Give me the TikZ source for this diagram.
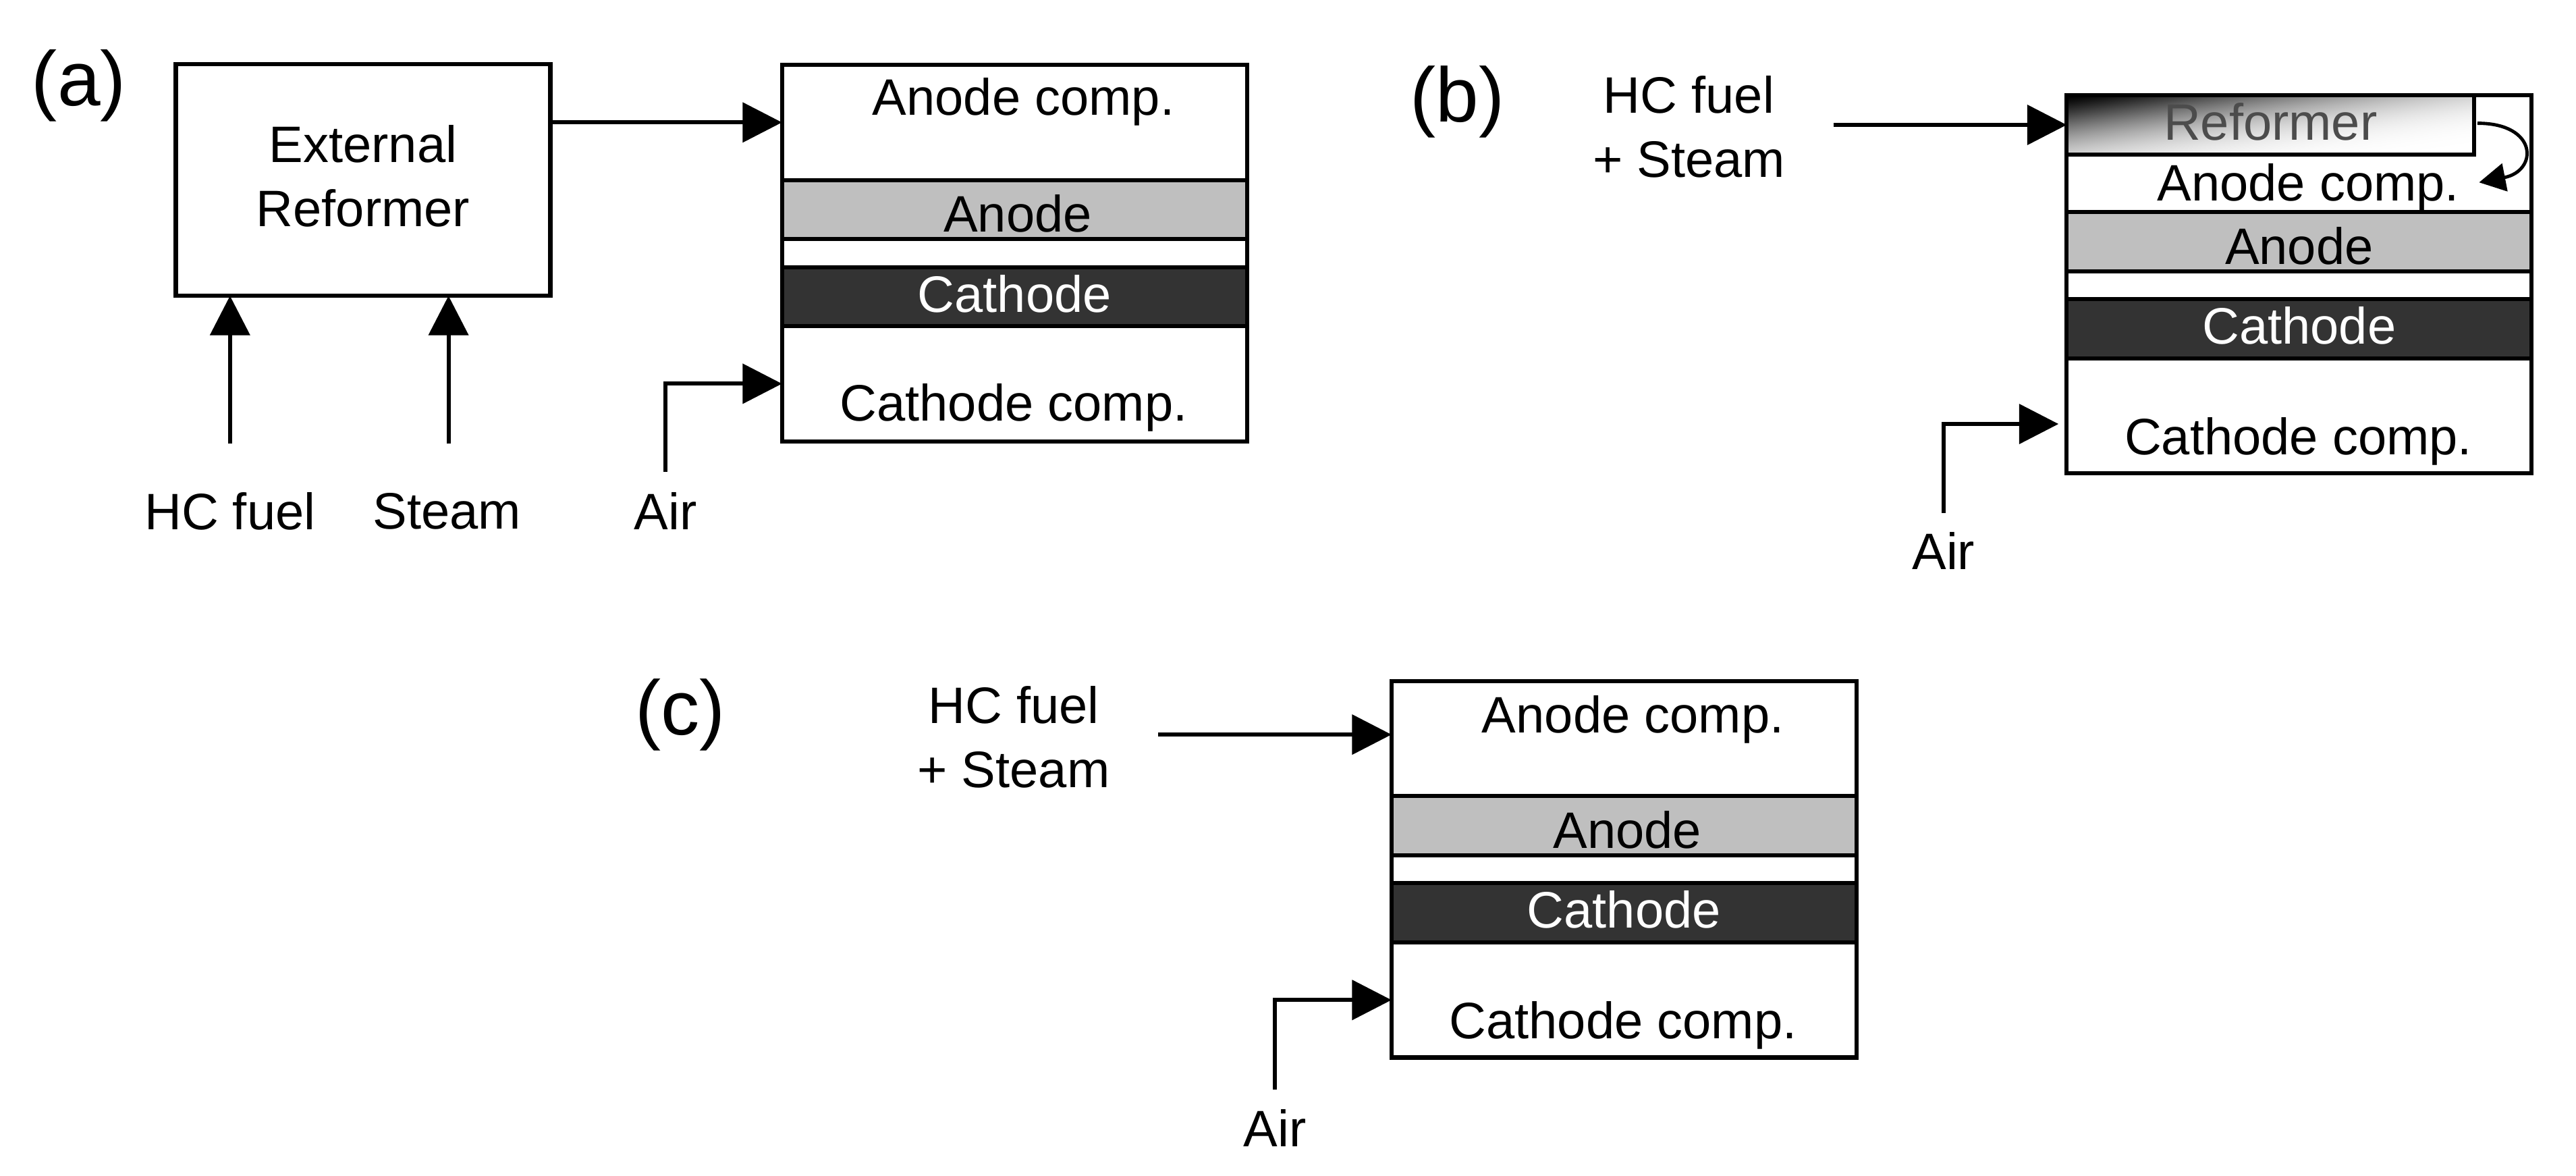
\documentclass[tikz,border=0pt]{standalone}
\usepackage{fontspec}
\setmainfont{Liberation Sans}
\usetikzlibrary{arrows.meta,positioning}

\definecolor{anodegray}{HTML}{BFBFBF}
\definecolor{cathodegray}{HTML}{333333}

\pgfdeclarefunctionalshading{reformerfade}{\pgfpointorigin}{\pgfpoint{100bp}{100bp}}{}{
  25 sub 50 div exch 25 sub 50 div sub 1 add 2 div
  dup dup mul mul 1 exch sub
  dup 0 lt {pop 0} if
  dup sqrt mul dup dup
}

\tikzset{
  layer/.style={draw, line width=1.25pt, inner sep=0pt, outer sep=0pt, minimum width=141.5pt},
  comp/.style={layer, fill=white, minimum height=35pt},
  anodelayer/.style={layer, fill=anodegray, minimum height=18pt, text height=13.9pt},
  gaplayer/.style={layer, fill=white, minimum height=8.5pt},
  cathodelayer/.style={layer, fill=cathodegray, text=white, minimum height=18pt, text depth=2pt},
  flow/.style={line width=1.25pt, -{Triangle[length=12pt,width=12pt]}},
  tag/.style={inner sep=0pt, font=\fontsize{23.5}{28}\selectfont},
  lbl/.style={inner sep=0pt, align=center, font=\fontsize{15.6}{19.5}\selectfont}
}

\begin{document}
\begin{tikzpicture}[x=0.5pt,y=-0.5pt,node distance=0pt,font=\fontsize{15.6}{19.5}\selectfont]
   \useasboundingbox (0,0) rectangle (1568,715.6);

   % (a)
   \node[tag] (taga) at (48,52) {(a)};
   \node[layer, minimum width=114pt, minimum height=70.5pt, align=center, text depth=2.5pt, anchor=north west] (ref) at (107,39) {External\\Reformer};
   \node[comp, anchor=north west] (a1) at (476,39.5) {};
   \node[anodelayer] (a2) [below=of a1] {\hspace*{2pt}Anode};
   \node[gaplayer] (a3) [below=of a2] {};
   \node[cathodelayer] (a4) [below=of a3] {Cathode};
   \node[comp] (a5) [below=of a4] {};
   \node[lbl] (a1t) at (623,62) {Anode comp.};
   \node[lbl] (a5t) at (617,248) {Cathode comp.};
   \node[lbl] (hc) at (140,311) {HC fuel};
   \node[lbl] (steam) at (272,311) {Steam};
   \node[lbl] (aira) at (405,311) {Air};
   \coordinate (hcin) at (140,270);
   \coordinate (steamin) at (273,270);
   \coordinate (airain) at (405,287);
   \path[flow]
    (hcin) edge (hcin |- ref.south)
    (steamin) edge (steamin |- ref.south)
    (ref.east |- a1.west) edge (a1.west);
   \draw[flow] (airain) |- (a5.west);

   % (b)
   \node[tag] (tagb) at (887,62) {(b)};
   \node[comp, minimum height=35.5pt, anchor=north west] (b1) at (1258,58) {};
   \node[anodelayer] (b2) [below=of b1] {Anode};
   \node[gaplayer] (b3) [below=of b2] {};
   \node[cathodelayer] (b4) [below=of b3] {Cathode};
   \node[comp] (b5) [below=of b4] {};
   \node[layer, minimum width=124pt, minimum height=18pt, anchor=north west, shade, shading=reformerfade, text=black!70, text depth=2pt] (bref) at (1258,58) {Reformer};
   \node[lbl] (b1t) at (1405,114) {Anode comp.};
   \node[lbl] (b5t) at (1399,268.5) {Cathode comp.};
   \node[lbl] (hcb) at (1028,77) {HC fuel\\+ Steam};
   \node[lbl] (airb) at (1183,335) {Air};
   \coordinate (hcbin) at (1116,76);
   \coordinate (airbin) at (1183,312);
   \coordinate (airbend) at (1253,258);
   \coordinate (turnin) at (1508,75);
   \coordinate (turnout) at (1509,111);
   \path[flow] (hcbin) edge (bref.west);
   \draw[flow] (airbin) |- (airbend);
   \draw[line width=1pt, -{Triangle[length=8pt,width=8.5pt]}] (turnin) .. controls (1545,75) and (1545,104) .. (turnout);

   % (c)
   \node[tag] (tagc) at (414,435) {(c)};
   \node[comp, anchor=north west] (c1) at (847,414.5) {};
   \node[anodelayer] (c2) [below=of c1] {\hspace*{2pt}Anode};
   \node[gaplayer] (c3) [below=of c2] {};
   \node[cathodelayer] (c4) [below=of c3] {Cathode};
   \node[comp] (c5) [below=of c4] {};
   \node[lbl] (c1t) at (994,438) {Anode comp.};
   \node[lbl] (c5t) at (988,624) {Cathode comp.};
   \node[lbl] (hcc) at (617,448.5) {HC fuel\\+ Steam};
   \node[lbl] (airc) at (776,686.5) {Air};
   \coordinate (hccin) at (705,447);
   \coordinate (aircin) at (776,663);
   \path[flow] (hccin) edge (hccin -| c1.west);
   \draw[flow] (aircin) |- (c5.west);
\end{tikzpicture}
\end{document}
